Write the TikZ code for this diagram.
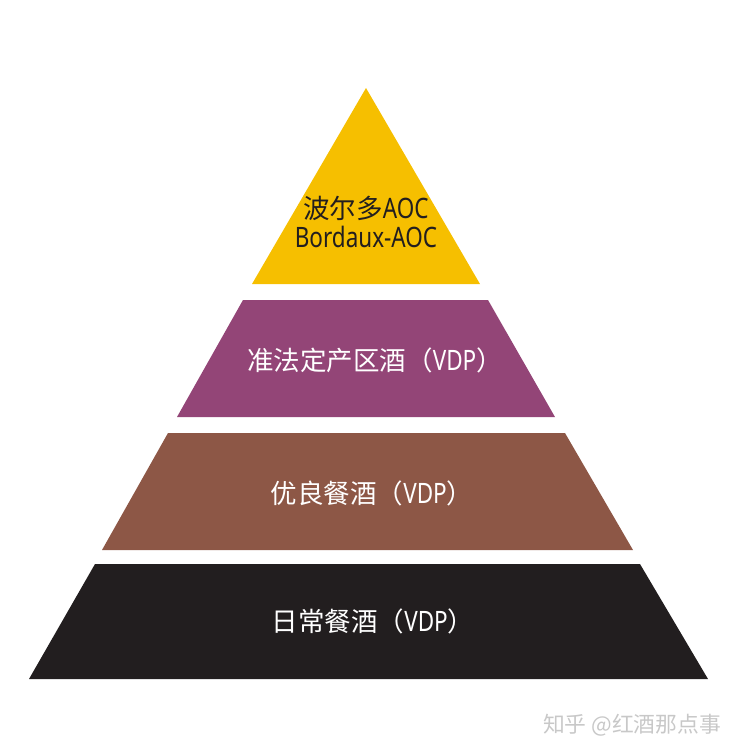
\documentclass[tikz,border=0pt]{standalone}
\usepackage{fontspec}
\setmainfont{Noto Sans CJK SC}
\newfontfamily\narrowfont[FakeStretch=0.8]{Noto Sans}
\newcommand{\narrow}[1]{{\narrowfont\fontsize{16}{16.5}\selectfont #1}}
\definecolor{tierGold}{HTML}{F6BF00}
\definecolor{tierPlum}{HTML}{934577}
\definecolor{tierBrown}{HTML}{8D5746}
\definecolor{tierBlack}{HTML}{221E1F}
\definecolor{markGray}{HTML}{C8C8C8}
\tikzset{
	tierlabel/.style={inner sep=0, align=center, font=\fontsize{15.1}{16.5}\selectfont},
	marklabel/.style={inner sep=0, text=markGray, font=\fontsize{12.4}{14}\selectfont}
}
\begin{document}
\begin{tikzpicture}[x=.02cm,y=-.02cm]
		\useasboundingbox (0,0) rectangle (740,755);
		\fill[tierGold] (366,88) -- (480,284) -- (252,284) -- cycle;
		\fill[tierPlum] (243,300) -- (488,300) -- (555,417) -- (177,417) -- cycle;
		\fill[tierBrown] (168,433) -- (565,433) -- (633,550) -- (102,550) -- cycle;
		\fill[tierBlack] (95,564) -- (640,564) -- (708,679) -- (29,679) -- cycle;
		\node[tierlabel, text=tierBlack] (aoc) at (366,222) {波尔多\narrow{AOC}\\\narrow{Bordaux-AOC}};
		\node[tierlabel, text=white] (region) at (375,360) {准法定产区酒（\narrow{VDP}）};
		\node[tierlabel, text=white] (table) at (372,493) {优良餐酒（\narrow{VDP}）};
		\node[tierlabel, text=white] (daily) at (373,621) {日常餐酒（\narrow{VDP}）};
		\node[marklabel] (mark) at (632,725) {知乎 @红酒那点事};
	\end{tikzpicture}
\end{document}
